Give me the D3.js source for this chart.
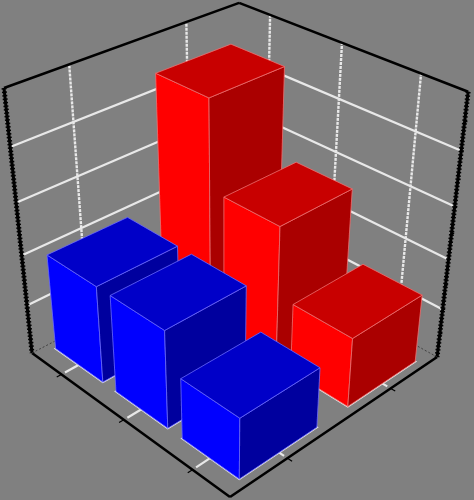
<!DOCTYPE html>
<html>
<head>
<meta charset="utf-8">
<style>
  html, body { margin: 0; padding: 0; background: #808080; }
  svg { display: block; }
</style>
<script src="https://cdnjs.cloudflare.com/ajax/libs/d3/7.8.5/d3.min.js"></script>
</head>
<body>
<div id="chart"></div>
<script>
// chart values
var xCategories = ['1', '2', '3'];
var seriesNames = ['blue', 'red'];
var blueValues = [1.93, 1.93, 1.2];
var redValues = [4.4, 2.72, 1.38];
var zTicks = [1, 2, 3, 4];
var zMinorTicks = [0.5, 1.5, 2.5, 3.5, 4.5];

var width = 474, height = 500;

// perspective camera, fitted to the corners of the plot box
var cornerL = [32, 353], cornerA = [230, 497], cornerB = [237.5, 246.5], cornerT = [4, 88];
var persp = { x: -0.135, y: 0.132, z: -0.127 };

function project(p) {
  var x = p[0], y = p[1], z = p[2];
  var w = 1 + persp.x * x + persp.y * y + persp.z * z;
  var f = function(i) {
    return cornerL[i] +
      x * ((1 + persp.x) * cornerA[i] - cornerL[i]) +
      y * ((1 + persp.y) * cornerB[i] - cornerL[i]) +
      z * ((1 + persp.z) * cornerT[i] - cornerL[i]);
  };
  return [f(0) / w, f(1) / w];
}

var xBand = d3.scaleBand().domain(xCategories).range([0, 1]).paddingInner(0.21).paddingOuter(0.111);
var yBand = d3.scaleBand().domain(seriesNames).range([0, 1]).paddingInner(0.3).paddingOuter(0.15);
var zScale = d3.scaleLinear().domain([0, 5]).range([0, 1]);
var wallShift = -0.015;

var colors = {
  blue: { side: '#0000ff', top: '#0000c8', dark: '#00009e', edge: '#6a6aff' },
  red: { side: '#ff0000', top: '#c80000', dark: '#aa0000', edge: '#ee7070' }
};

var svg = d3.select('#chart').append('svg').attr('width', width).attr('height', height);
svg.append('filter').attr('id', 'soft').append('feGaussianBlur').attr('stdDeviation', 0.4);
var root = svg.append('g').attr('filter', 'url(#soft)');
var line = d3.line();

function seg(g, a, b, color, w) {
  return g.append('path').attr('d', line([project(a), project(b)]))
    .attr('fill', 'none').attr('stroke', color).attr('stroke-width', w);
}

// grid on the two back walls and the floor
var grid = root.append('g');
zTicks.forEach(function(t) {
  seg(grid, [0, 0, zScale(t)], [0, 1, zScale(t)], '#e8e8e8', 2.2);
  seg(grid, [0, 1, zScale(t)], [1, 1, zScale(t)], '#e8e8e8', 2.2);
});
xCategories.forEach(function(c) {
  var x = xBand(c) + xBand.bandwidth() / 2;
  seg(grid, [x + wallShift, 1, 0], [x + wallShift, 1, 1], '#e8e8e8', 2.4).attr('stroke-dasharray', '3,1');
  seg(grid, [x, 0.015, 0], [x + wallShift, 1, 0], '#e8e8e8', 2.2);
});
seriesNames.forEach(function(s) {
  var y = yBand(s) + yBand.bandwidth() / 2;
  seg(grid, [0, y, 0], [0, y, 1], '#e8e8e8', 2.4).attr('stroke-dasharray', '3,1');
  seg(grid, [0, y, 0], [0.985, y, 0], '#e8e8e8', 2.2);
});

// frame
var frame = root.append('g');
seg(frame, [0, 0, 1], [0, 0, 0], '#000', 3);
seg(frame, [1, 1, 1], [1, 1, 0], '#000', 3);
seg(frame, [0, 0, 1], [0, 0, 0], '#000', 5).attr('stroke-dasharray', '1.5,2');
seg(frame, [1, 1, 1], [1, 1, 0], '#000', 5).attr('stroke-dasharray', '1.5,2');
seg(frame, [0, 0, 1], [0, 1, 1], '#000', 2.6);
seg(frame, [0, 1, 1], [1, 1, 1], '#000', 2.6);
seg(frame, [0, 0, 0], [1, 0, 0], '#000', 2.6);
seg(frame, [1, 0, 0], [1, 1, 0], '#000', 2.6);
seg(frame, [0, 0, 0], [0, 0.1, 0], '#333', 0.8).attr('stroke-dasharray', '2,2');
seg(frame, [1, 1, 0], [0.9, 1, 0], '#333', 0.8).attr('stroke-dasharray', '2,2');

// ticks
xCategories.forEach(function(c) {
  var x = xBand(c) + xBand.bandwidth() / 2;
  seg(frame, [x, 0, 0], [x, -0.02, 0], '#000', 1.2);
});
seriesNames.forEach(function(s) {
  var y = yBand(s) + yBand.bandwidth() / 2;
  seg(frame, [1, y, 0], [1.02, y, 0], '#000', 1.2);
});
zTicks.concat(zMinorTicks).forEach(function(t) {
  seg(frame, [1, 1, zScale(t)], [1.006, 1.006, zScale(t)], '#000', 1.2);
  seg(frame, [0, 0, zScale(t)], [-0.003, -0.003, zScale(t)], '#000', 1.2);
});

// bars, back to front
var bars = [];
seriesNames.slice().reverse().forEach(function(s) {
  var vals = s === 'blue' ? blueValues : redValues;
  xCategories.forEach(function(c, i) {
    bars.push({ series: s, cat: c, value: vals[i] });
  });
});

function face(pts) {
  return line(pts.map(project)) + 'Z';
}

var barG = root.append('g').selectAll('g').data(bars).enter().append('g');
barG.each(function(d) {
  var g = d3.select(this), c = colors[d.series];
  var x0 = xBand(d.cat), x1 = x0 + xBand.bandwidth();
  var y0 = yBand(d.series), y1 = y0 + yBand.bandwidth();
  var z = zScale(d.value);
  g.append('path').attr('d', face([[x0, y0, 0], [x1, y0, 0], [x1, y1, 0], [x0, y1, 0]]))
    .attr('fill', 'none').attr('stroke', '#e8e8e8').attr('stroke-width', 2);
  g.append('path').attr('d', face([[x0, y0, 0], [x1, y0, 0], [x1, y0, z], [x0, y0, z]]))
    .attr('fill', c.side).attr('stroke', c.edge).attr('stroke-width', 0.8);
  g.append('path').attr('d', face([[x1, y0, 0], [x1, y1, 0], [x1, y1, z], [x1, y0, z]]))
    .attr('fill', c.dark).attr('stroke', c.edge).attr('stroke-width', 0.8);
  g.append('path').attr('d', face([[x0, y0, z], [x1, y0, z], [x1, y1, z], [x0, y1, z]]))
    .attr('fill', c.top).attr('stroke', c.edge).attr('stroke-width', 0.8);
});
</script>
</body>
</html>
